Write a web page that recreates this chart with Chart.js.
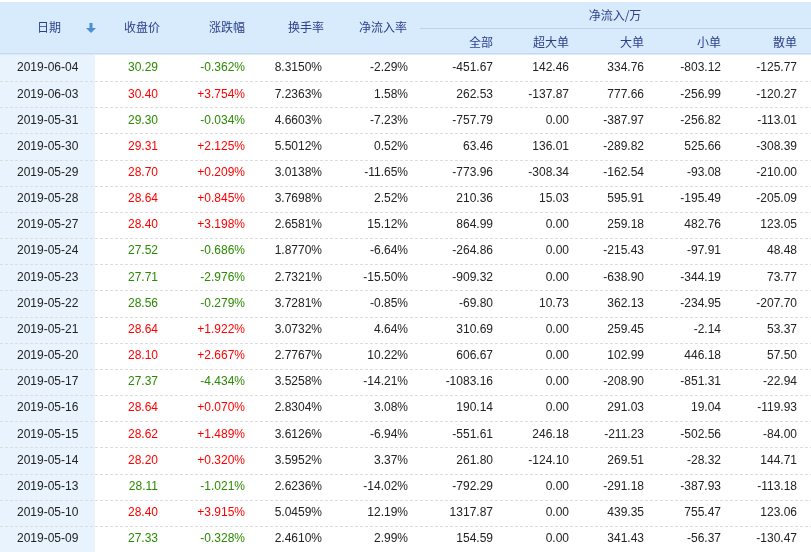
<!DOCTYPE html>
<html><head><meta charset="utf-8">
<script src="https://cdn.jsdelivr.net/npm/chart.js@4/dist/chart.umd.min.js"></script>
<style>html,body{margin:0;padding:0;background:#fff}</style>
</head><body>
<canvas id="c" width="811" height="552"></canvas>
<script>
const dates=["2019-06-04","2019-06-03","2019-05-31","2019-05-30","2019-05-29","2019-05-28","2019-05-27","2019-05-24","2019-05-23","2019-05-22","2019-05-21","2019-05-20","2019-05-17","2019-05-16","2019-05-15","2019-05-14","2019-05-13","2019-05-10","2019-05-09"];
const close=[30.29,30.40,29.30,29.31,28.70,28.64,28.40,27.52,27.71,28.56,28.64,28.10,27.37,28.64,28.62,28.20,28.11,28.40,27.33];
const change=["-0.362%","+3.754%","-0.034%","+2.125%","+0.209%","+0.845%","+3.198%","-0.686%","-2.976%","-0.279%","+1.922%","+2.667%","-4.434%","+0.070%","+1.489%","+0.320%","-1.021%","+3.915%","-0.328%"];
const turnover=["8.3150%","7.2363%","4.6603%","5.5012%","3.0138%","3.7698%","2.6581%","1.8770%","2.7321%","3.7281%","3.0732%","2.7767%","3.5258%","2.8304%","3.6126%","3.5952%","2.6236%","5.0459%","2.4610%"];
const netRate=["-2.29%","1.58%","-7.23%","0.52%","-11.65%","2.52%","15.12%","-6.64%","-15.50%","-0.85%","4.64%","10.22%","-14.21%","3.08%","-6.94%","3.37%","-14.02%","12.19%","2.99%"];
const flowAll=["-451.67","262.53","-757.79","63.46","-773.96","210.36","864.99","-264.86","-909.32","-69.80","310.69","606.67","-1083.16","190.14","-551.61","261.80","-792.29","1317.87","154.59"];
const flowSuper=["142.46","-137.87","0.00","136.01","-308.34","15.03","0.00","0.00","0.00","10.73","0.00","0.00","0.00","0.00","246.18","-124.10","0.00","0.00","0.00"];
const flowLarge=["334.76","777.66","-387.97","-289.82","-162.54","595.91","259.18","-215.43","-638.90","362.13","259.45","102.99","-208.90","291.03","-211.23","269.51","-291.18","439.35","341.43"];
const flowSmall=["-803.12","-256.99","-256.82","525.66","-93.08","-195.49","482.76","-97.91","-344.19","-234.95","-2.14","446.18","-851.31","19.04","-502.56","-28.32","-387.93","755.47","-56.37"];
const flowRetail=["-125.77","-120.27","-113.01","-308.39","-210.00","-205.09","123.05","48.48","73.77","-207.70","53.37","57.50","-22.94","-119.93","-84.00","144.71","-113.18","123.06","-130.47"];
const headers=["收盘价","涨跌幅","换手率","净流入率"];
const subHeaders=["全部","超大单","大单","小单","散单"];

const FONT='12px "Liberation Sans", Arial, sans-serif';
const HFONT='12px "Noto Sans CJK SC", sans-serif';
const tablePlugin={id:'table',beforeDraw(ch){
  const c=ch.ctx,y=ch.scales.y,W=ch.width;
  const rh=(y.getPixelForValue(1)-y.getPixelForValue(0));
  c.save();
  c.fillStyle='#d7ebfc';c.fillRect(0,2,W,y.top-2);
  c.fillStyle='#c9d9ea';c.fillRect(0,y.top-2,W,1);
  c.fillStyle='#e8f3fd';c.fillRect(0,y.top,95,ch.height-y.top);
  c.strokeStyle='#bcd3ea';c.lineWidth=1;
  c.beginPath();c.moveTo(420,28.5);c.lineTo(W,28.5);c.stroke();
  c.font=HFONT;c.textBaseline='middle';c.fillStyle='#2b3f8c';
  c.textAlign='left';c.fillText('日期',37,27);
  c.fillStyle='#4a8fd6';c.beginPath();c.moveTo(86,28);c.lineTo(96,28);c.lineTo(91,33);c.closePath();c.fill();c.fillRect(89.5,23,3,6);
  c.fillStyle='#2b3f8c';c.textAlign='center';
  const hx=[142,227,306,383];headers.forEach((h,i)=>c.fillText(h,hx[i],27));
  c.fillText('净流入/万',615,15);
  const rx=[158,245,322,408,493,569,644,721,797];
  c.textAlign='right';subHeaders.forEach((h,i)=>c.fillText(h,rx[4+i],42));
  c.font=FONT;
  dates.forEach((d,i)=>{
    const cy=y.getPixelForValue(i);
    c.strokeStyle='#dddddd';c.setLineDash([3,2]);c.beginPath();c.moveTo(0,Math.round(cy+rh/2)+0.5);c.lineTo(W,Math.round(cy+rh/2)+0.5);c.stroke();c.setLineDash([]);
    c.fillStyle='#222';c.textAlign='left';c.fillText(d,17,cy);
    const col=change[i][0]==='+'?'#ff0000':'#2a8a00';
    c.textAlign='right';
    c.fillStyle=col;c.fillText(close[i].toFixed(2),rx[0],cy);c.fillText(change[i],rx[1],cy);
    c.fillStyle='#222';
    [turnover,netRate,flowAll,flowSuper,flowLarge,flowSmall,flowRetail].forEach((a,k)=>c.fillText(a[i],rx[2+k],cy));
  });
  c.restore();
}};
new Chart(document.getElementById('c'),{
  type:'bar',
  data:{labels:dates,datasets:[{data:close,backgroundColor:'rgba(0,0,0,0)'}]},
  options:{indexAxis:'y',responsive:false,animation:false,
    layout:{padding:{top:55,left:0,right:0,bottom:0}},
    plugins:{legend:{display:false},tooltip:{enabled:false}},
    scales:{y:{type:'category',display:false,offset:true},x:{display:false,min:0,max:40}}},
  plugins:[tablePlugin]
});
</script></body></html>
